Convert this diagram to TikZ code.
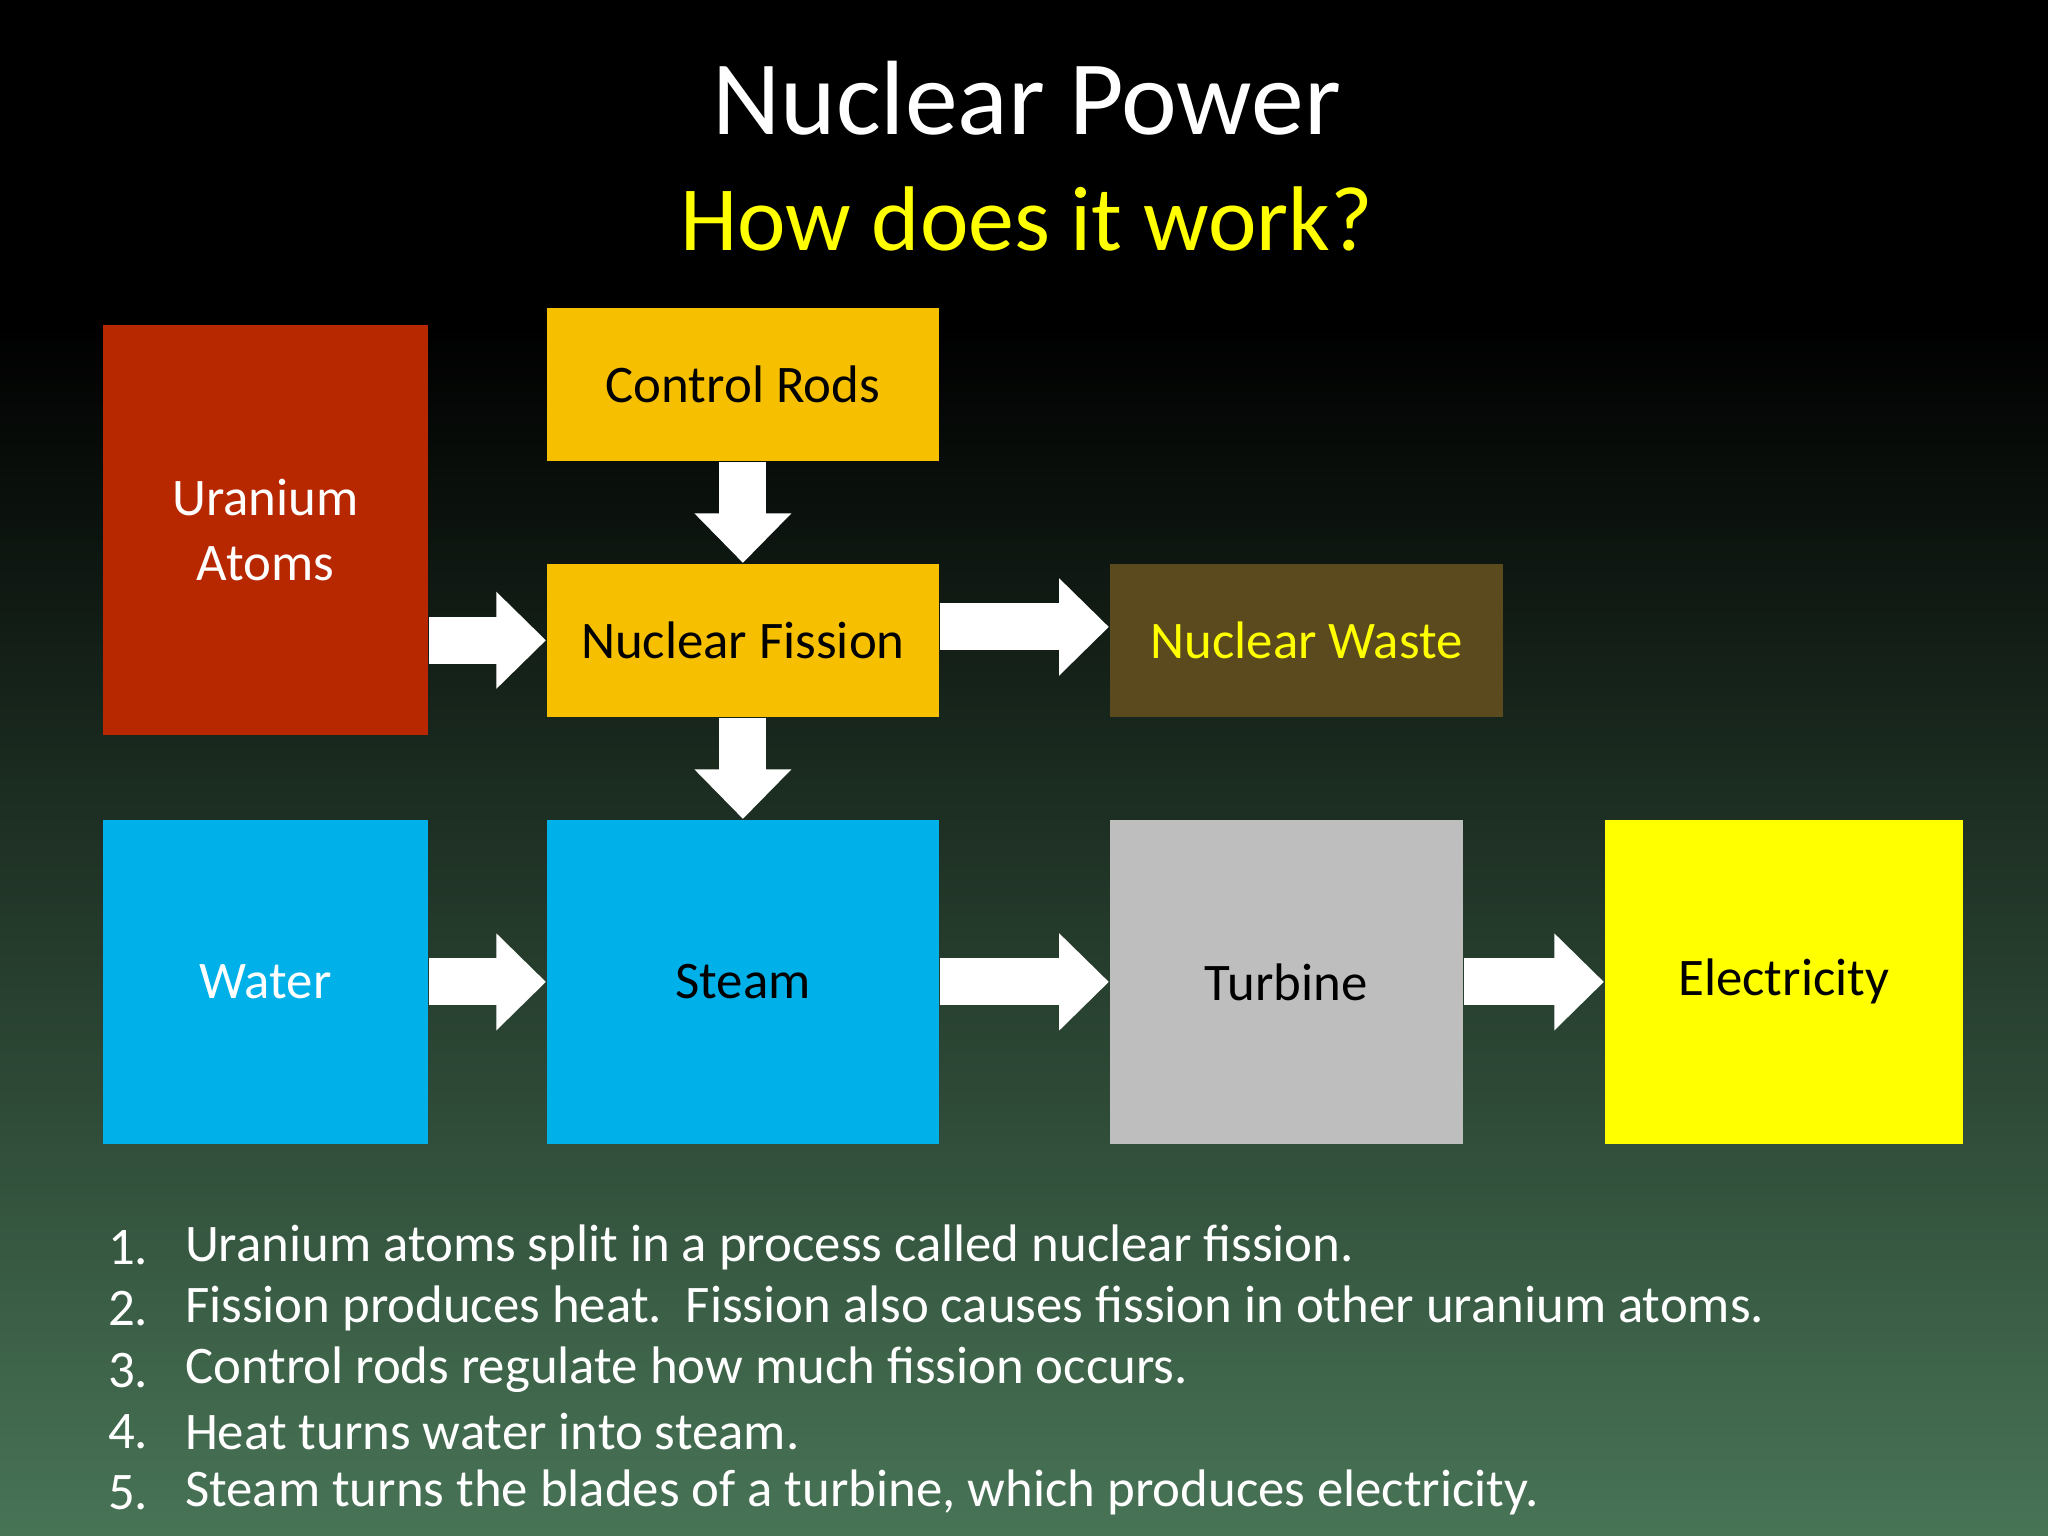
\documentclass[tikz,border=0pt]{standalone}
\usepackage{fontspec}
\setmainfont{Carlito}
\usetikzlibrary{arrows.meta,positioning}

\definecolor{uranred}{RGB}{184,40,0}
\definecolor{rodgold}{RGB}{246,192,0}
\definecolor{wastebrown}{RGB}{90,74,30}
\definecolor{waterblue}{RGB}{0,176,232}
\definecolor{turbgrey}{RGB}{190,190,190}
\definecolor{elecyellow}{RGB}{255,255,0}
\definecolor{bggreen}{RGB}{72,116,86}

\tikzset{
  box/.style={draw=none, anchor=north west, inner sep=0pt, align=center,
    font=\fontsize{11.5}{14}\selectfont},
  flow/.style={draw=white, line width=0.36cm,
    -{Triangle[length=0.38cm,width=0.72cm]}},
  item/.style={anchor=west, inner sep=0pt, text=white,
    font=\fontsize{11.5}{14}\selectfont}
}

\begin{document}
\begin{tikzpicture}[x=0.01cm,y=-0.01cm]

% Background
\fill[black] (0,0) rectangle (1568,250);
\shade[top color=black, bottom color=bggreen] (0,249) rectangle (1568,1176);
\useasboundingbox (0,0) rectangle (1568,1176);

% Titles
\node[text=white, font=\fontsize{23}{26}\selectfont] (title) at (786,75) {Nuclear Power};
\node[text=elecyellow, font=\fontsize{20}{24}\selectfont] (subtitle) at (786,168) {How does it work?};

% Boxes
\node[box, fill=uranred, text=white, minimum width=2.49cm, minimum height=3.14cm] (uran) at (78,248) {Uranium\\Atoms};
\node[box, fill=rodgold, minimum width=3cm, minimum height=1.17cm] (rods) at (418,235) {Control Rods};
\node[box, fill=rodgold, minimum width=3cm, minimum height=1.17cm] (fis) at (418,431) {Nuclear Fission};
\node[box, fill=wastebrown, text=elecyellow, minimum width=3.01cm, minimum height=1.17cm] (waste) at (849,431) {Nuclear Waste};
\node[box, fill=waterblue, text=white, minimum width=2.49cm, minimum height=2.48cm] (water) at (78,627) {Water};
\node[box, fill=waterblue, minimum width=3cm, minimum height=2.48cm] (steam) at (418,627) {Steam};
\node[box, fill=turbgrey, minimum width=2.7cm, minimum height=2.48cm] (turb) at (849,627) {Turbine};
\node[box, fill=elecyellow, minimum width=2.74cm, minimum height=2.48cm] (elec) at (1228,627) {Electricity};

% Arrows
\coordinate (wasteIn) at (849,480);
\draw[flow] (rods.south) -- (fis.north);
\draw[flow] (uran.east |- fis.west) -- (fis.west);
\draw[flow] (fis.east |- wasteIn) -- (wasteIn);
\draw[flow] (fis.south) -- (steam.north);
\draw[flow] (water.east) -- (steam.west);
\draw[flow] (steam.east) -- (turb.west);
\draw[flow] (turb.east) -- (elec.west);

% Steps
\foreach \n/\t [count=\i] in {
  1./Uranium atoms split in a process called nuclear fission.,
  2./Fission produces heat.\ \ Fission also causes fission in other uranium atoms.,
  3./Control rods regulate how much fission occurs.,
  4./Heat turns water into steam.,
  5./{Steam turns the blades of a turbine, which produces electricity.}}
{
  \node[item] (num\i) at (82,{908+47*\i}) {\n};
  \node[item] (step\i) at (141,{908+47*\i}) {\t};
}

\end{tikzpicture}
\end{document}
